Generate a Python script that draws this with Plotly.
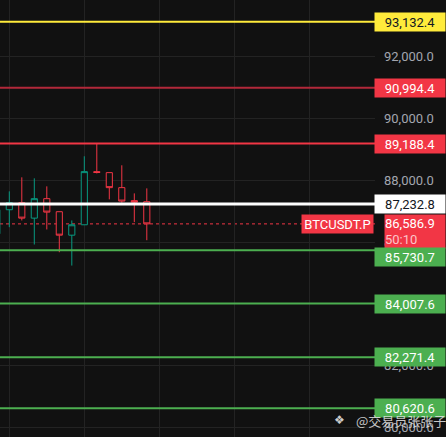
import plotly.graph_objects as go

# ---- data ----
candle_idx = list(range(13))
open_ = [86266, 87045, 87273, 86773, 87403, 86981, 86221, 86558, 88279, 88246, 87760, 87340, 87305]
high = [87100, 87640, 88094, 88062, 87802, 86981, 86698, 88776, 89180, 88246, 88484, 87575, 87737]
low = [86200, 86480, 86698, 85919, 86406, 85669, 85237, 86558, 88221, 87380, 87273, 86643, 86058]
close = [87045, 87273, 86773, 87403, 86968, 86221, 86558, 88279, 88250, 87760, 87325, 87290, 86587]

level_prices = [93132.4, 90994.4, 89188.4, 87232.8, 85730.7, 84007.6, 82271.4, 80620.6]
level_line_colors = ["#ffeb3b", "#b2283a", "#f23645", "#ffffff", "#4caf50", "#4caf50", "#4caf50", "#4caf50"]
level_box_colors = ["#ffeb3b", "#f23645", "#f23645", "#ffffff", "#4caf50", "#4caf50", "#4caf50", "#4caf50"]
level_text_colors = ["#131722", "#ffffff", "#ffffff", "#131722", "#ffffff", "#ffffff", "#ffffff", "#ffffff"]
level_widths = [2, 2, 2, 3, 2, 2, 2, 2]
level_shift = [0, 0, 0, 0, -7, 0, 0, 0]

y_ticks = [80000, 82000, 84000, 86000, 88000, 90000, 92000]
current_price = 86586.9
countdown = "50:10"
symbol = "BTCUSDT.P"
watermark = "@交易员张张子"

BG = "#111111"
GRID = "#232323"
FONT = "Roboto"
W, H = 446, 437
PLOT_W = 375

fig = go.Figure()
fig.add_trace(go.Candlestick(
    x=candle_idx, open=open_, high=high, low=low, close=close,
    increasing=dict(line=dict(color="#089981", width=1), fillcolor=BG),
    decreasing=dict(line=dict(color="#f23645", width=1), fillcolor=BG),
    showlegend=False, hoverinfo="skip",
))

shapes = []
annotations = []
# current price dotted line
shapes.append(dict(type="line", xref="paper", yref="y", x0=0, x1=1, y0=current_price, y1=current_price,
                   line=dict(color="#f23645", width=1, dash="dot"), layer="below"))
for p, lc, lw in zip(level_prices, level_line_colors, level_widths):
    shapes.append(dict(type="line", xref="paper", yref="y", x0=0, x1=1, y0=p, y1=p,
                       line=dict(color=lc, width=lw), layer="above"))

# current price label (two lines)
annotations.append(dict(
    xref="paper", yref="y", x=W / PLOT_W, y=current_price, xanchor="right", yanchor="middle",
    text=f"{current_price:,.1f}<br><span style='color:rgba(255,255,255,0.72)'>{countdown}</span>",
    showarrow=False, align="left", bgcolor="#f23645", width=60, height=33, borderpad=0,
    font=dict(family=FONT, size=13, color="#ffffff"), yshift=-7.5,
))
annotations.append(dict(
    xref="paper", yref="y", x=373.5 / PLOT_W, y=current_price, xanchor="right", yanchor="middle",
    text=symbol, showarrow=False, bgcolor="#f23645", width=71, height=18, borderpad=0,
    font=dict(family=FONT, size=13, color="#ffffff"),
))
for p, bc, tc, sh in zip(level_prices, level_box_colors, level_text_colors, level_shift):
    annotations.append(dict(
        xref="paper", yref="y", x=W / PLOT_W, y=p, xanchor="right", yanchor="middle",
        text=f"{p:,.1f}", showarrow=False, bgcolor=bc, width=70, height=18, borderpad=0,
        font=dict(family=FONT, size=13, color=tc), yshift=sh,
    ))

# watermark
annotations.append(dict(
    xref="paper", yref="paper", x=347 / PLOT_W, y=1 - 420 / H, xanchor="right", yanchor="middle",
    text="❖", showarrow=False, font=dict(family="DejaVu Sans", size=12, color="rgba(230,230,230,0.9)"),
))
annotations.append(dict(
    xref="paper", yref="paper", x=354 / PLOT_W, y=1 - 420 / H, xanchor="left", yanchor="middle",
    text=watermark, showarrow=False, font=dict(family="Noto Sans CJK SC", size=13, color="rgba(225,225,225,0.88)"),
))

fig.update_layout(
    width=W, height=H,
    margin=dict(l=0, r=W - PLOT_W, t=0, b=0),
    paper_bgcolor=BG, plot_bgcolor=BG,
    shapes=shapes, annotations=annotations,
    showlegend=False,
    xaxis=dict(range=[0.256, 30.256], tick0=1, dtick=6, showticklabels=False, showgrid=True,
               gridcolor=GRID, gridwidth=1, zeroline=False, rangeslider=dict(visible=False), fixedrange=True),
    yaxis=dict(range=[79686, 93836], side="right", tickvals=y_ticks, tickformat=",.1f",
               showgrid=True, gridcolor=GRID, gridwidth=1, zeroline=False, ticks="",
               ticklabelstandoff=8, tickfont=dict(family=FONT, size=13, color="#a3a6af")),
)

fig.write_html("out.html", config={"displayModeBar": False},
               post_script="document.body.style.margin='0';document.body.style.background='#111111';")
